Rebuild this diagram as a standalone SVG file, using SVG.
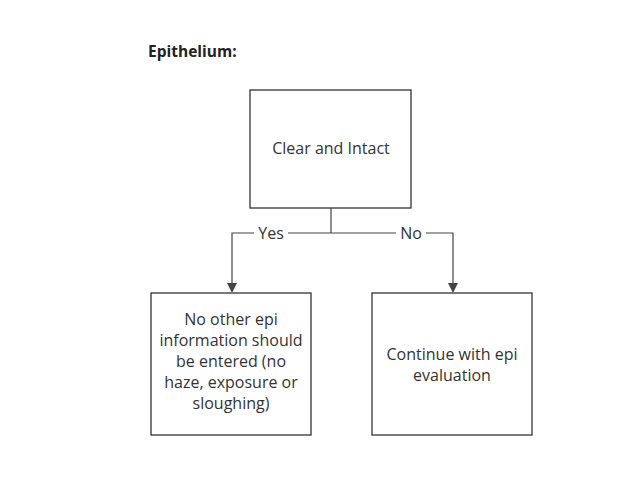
<svg xmlns="http://www.w3.org/2000/svg" width="638" height="478" viewBox="0 0 638 478">
<defs>
<style>
.box{fill:#fff;stroke:#333;stroke-width:1.3}
.t{font-family:"Open Sans","Liberation Sans",sans-serif;font-size:16px;fill:#333;text-anchor:middle}
.c{fill:none;stroke:#444;stroke-width:1.2}
</style>
</defs>
<rect width="638" height="478" fill="#fff"/>
<text x="148" y="57" font-family="Open Sans,Liberation Sans,sans-serif" font-size="15.5" font-weight="bold" fill="#222">Epithelium:</text>
<g id="connectors">
<path class="c" d="M331,208 V233"/>
<path class="c" d="M254,233 H232 V291"/>
<path class="c" d="M288,233 H396"/>
<path class="c" d="M426,233 H453 V291"/>
<path d="M227,283 L232,293 L237,283 Z" fill="#444"/>
<path d="M448,283 L453,293 L458,283 Z" fill="#444"/>
<text class="t" x="271" y="239">Yes</text>
<text class="t" x="411" y="239">No</text>
</g>
<g id="clear"><rect class="box" x="250" y="90" width="161" height="118"/><text class="t" x="331" y="154">Clear and Intact</text></g>
<g id="noother"><rect class="box" x="151" y="293" width="160" height="142"/>
<text class="t" x="231" y="325">No other epi</text>
<text class="t" x="231" y="346">information should</text>
<text class="t" x="231" y="367">be entered (no</text>
<text class="t" x="231" y="388">haze, exposure or</text>
<text class="t" x="231" y="409">sloughing)</text></g>
<g id="continue"><rect class="box" x="372" y="293" width="160" height="142"/>
<text class="t" x="452" y="360">Continue with epi</text>
<text class="t" x="452" y="381">evaluation</text></g>
</svg>
